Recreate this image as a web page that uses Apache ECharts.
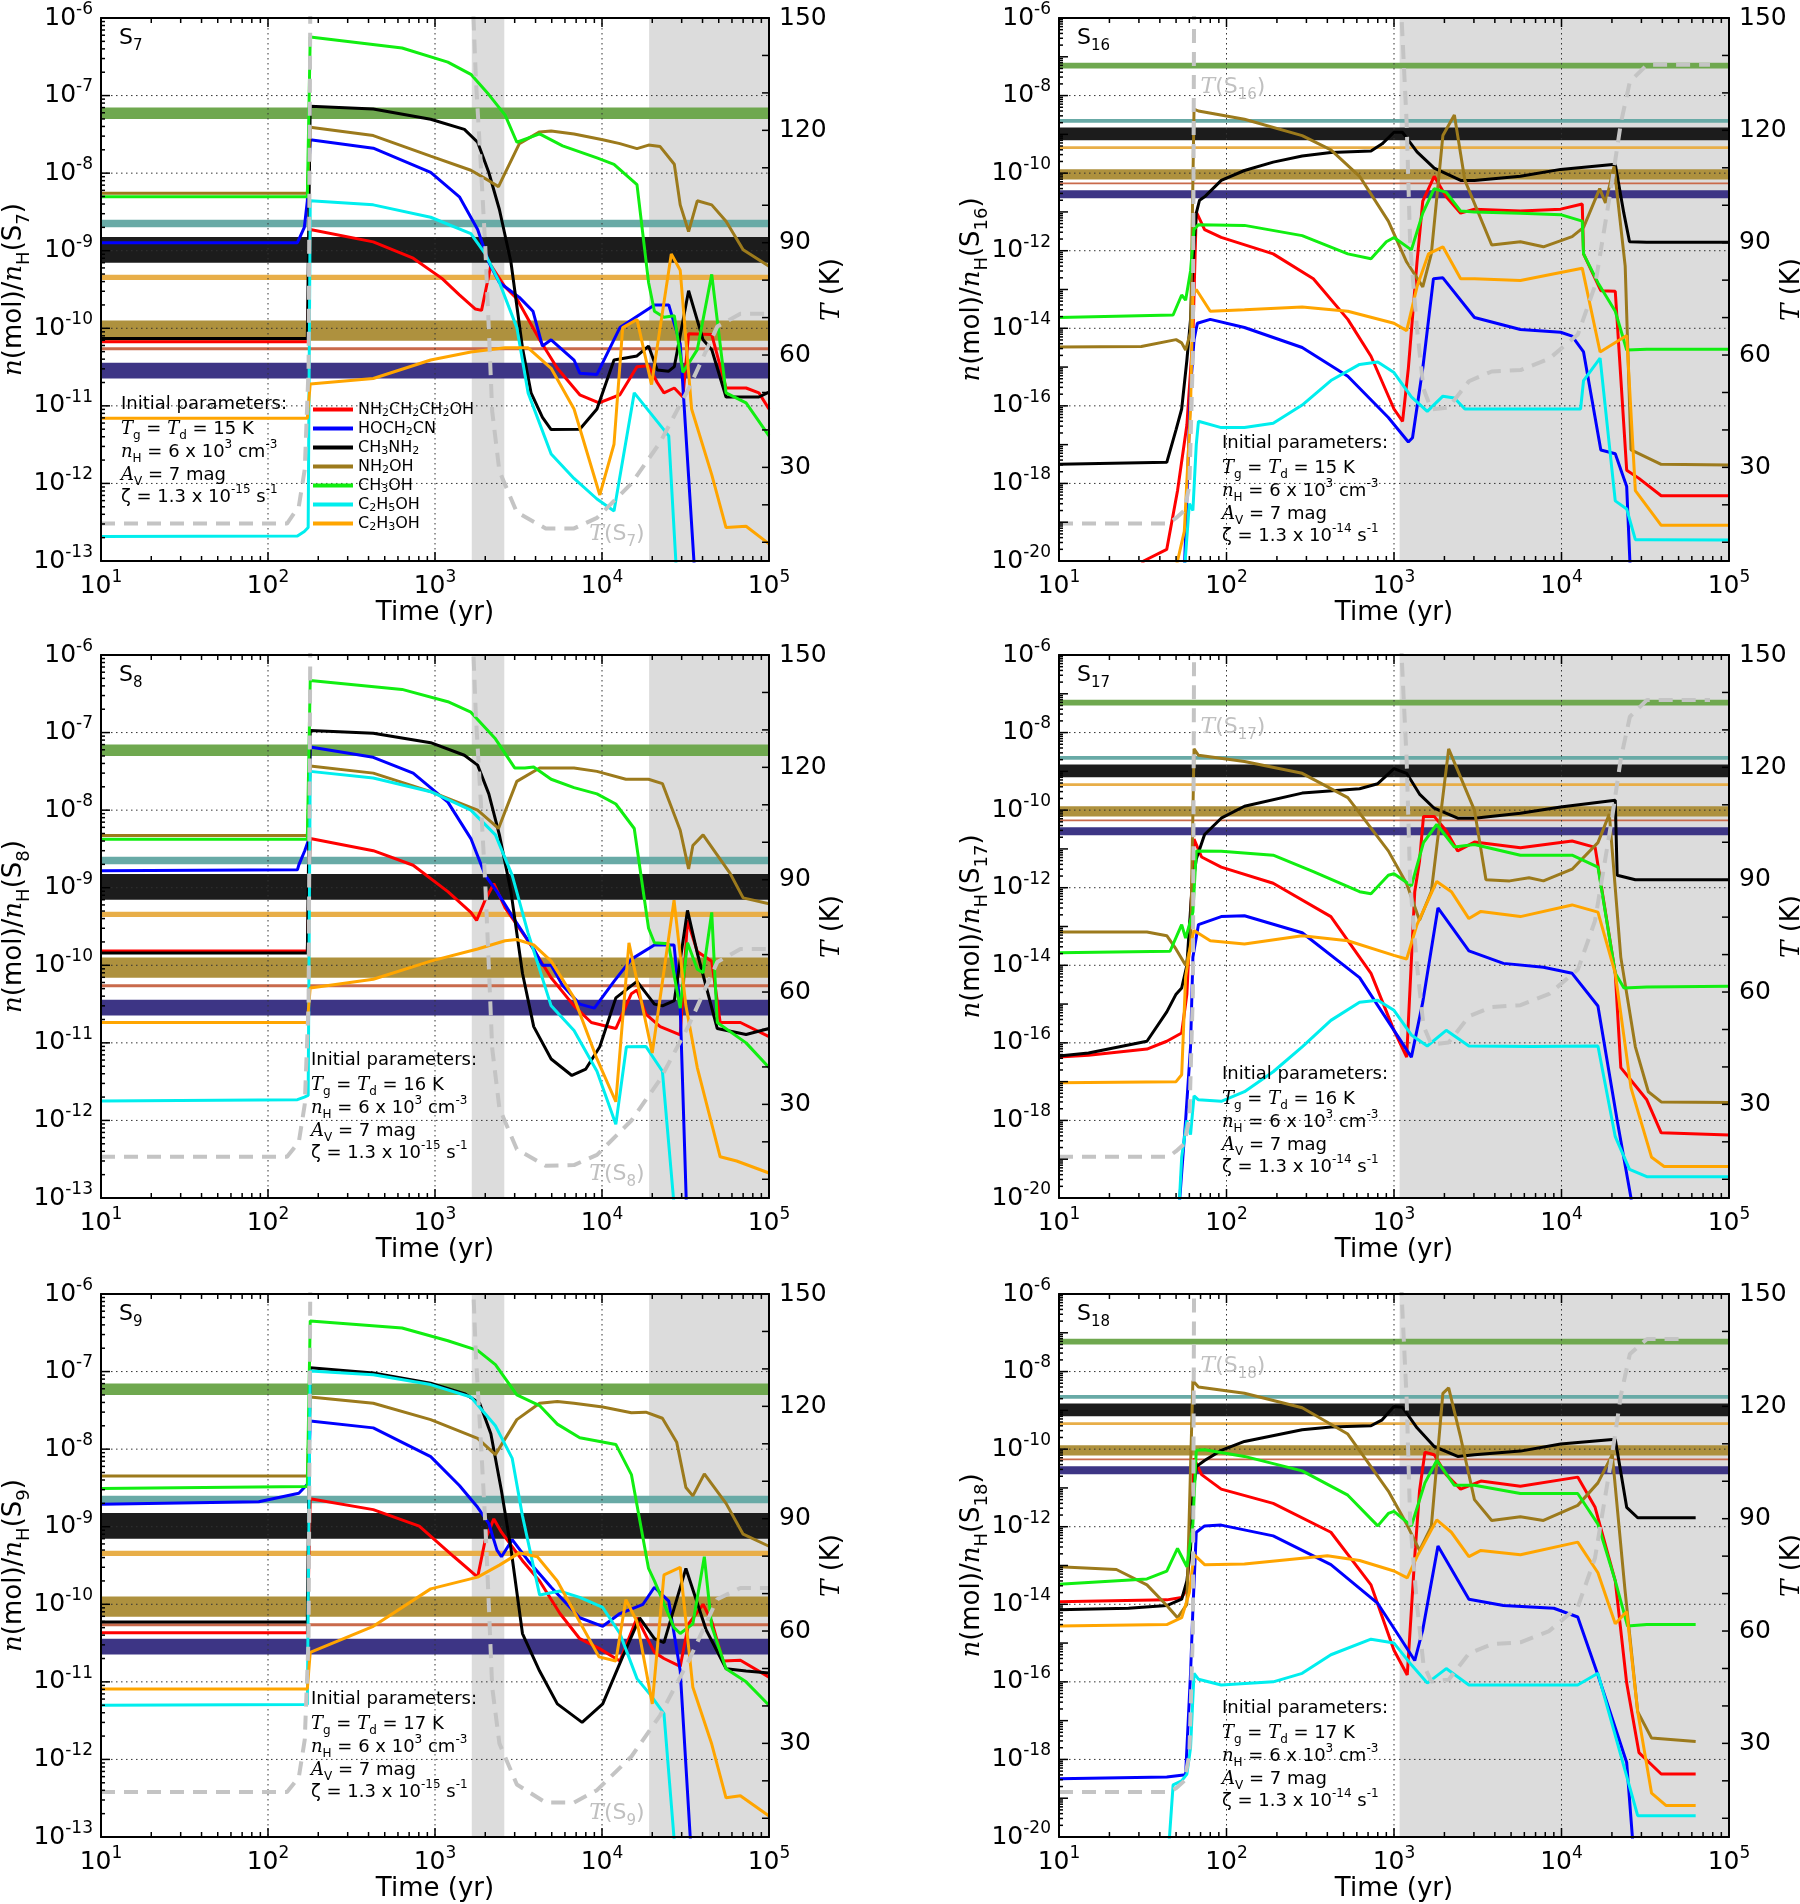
<!DOCTYPE html>
<html><head><meta charset="utf-8">
<script src="https://cdn.jsdelivr.net/npm/echarts@6/dist/echarts.min.js"></script>
<style>html,body{margin:0;padding:0;background:#fff}#c{width:1800px;height:1904px}</style>
</head><body><div id="c"></div>
<script>
// ---------------- DATA ----------------
const SPECIES = ['NH₂CH₂CH₂OH','HOCH₂CN','CH₃NH₂','NH₂OH','CH₃OH','C₂H₅OH','C₂H₃OH'];
const SPECIES_RICH = ['NH{sb|2}CH{sb|2}CH{sb|2}OH','HOCH{sb|2}CN','CH{sb|3}NH{sb|2}','NH{sb|2}OH','CH{sb|3}OH','C{sb|2}H{sb|5}OH','C{sb|2}H{sb|3}OH'];
const COLORS  = ['#ff0000','#0000ff','#000000','#9c7a1c','#11ee11','#00eeee','#ffa500'];
// observed abundance bands
const BAND_LO = [5.0e-8, 2.0e-9, 7.0e-10, 4.2e-10, 6.9e-11, 5.2e-11, 2.25e-11];
const BAND_HI = [7.0e-8, 2.5e-9, 1.5e-9, 4.9e-10, 1.26e-10, 5.7e-11, 3.6e-11];
const BAND_COLORS = ['#6fa84f','#68aaa6','#1c1c1c','#e8ae48','#ae913e','#c96a4b','#3d3585'];
const SHADE_LEFT = [[1660,2600],[19150,100000]];
const SHADE_RIGHT = [[1080,100000]];
const X_TICKS = [10,100,1000,10000,100000];
const Y_LABELS_LEFT = [1e-13,1e-12,1e-11,1e-10,1e-9,1e-8,1e-7,1e-6];
const Y_LABELS_RIGHT = [1e-20,1e-18,1e-16,1e-14,1e-12,1e-10,1e-8,1e-6];
const T_TICKS = [10,20,30,40,50,60,70,80,90,100,110,120,130,140,150];
const T_LABELS = [30,60,90,120,150];

// ---- S7 ----
const S7_NH2CH2CH2OH=[[10,6.7e-11],[172,6.7e-11],[179,1.88e-9],[427,1.3e-9],[740,8.0e-10],[1100,4.4e-10],[1400,2.7e-10],[1746,1.77e-10],[1900,1.7e-10],[2160,6.5e-10],[2630,3.4e-10],[3090,2.4e-10],[4230,7.1e-11],[5400,3.05e-11],[7360,1.39e-11],[9600,1.09e-11],[12800,1.39e-11],[16200,3.2e-11],[19000,3.3e-11],[21400,2.0e-11],[23500,1.47e-11],[27100,1.7e-11],[30500,1.3e-11],[33000,8.5e-11],[45400,8.3e-11],[55300,1.7e-11],[72900,1.7e-11],[87000,1.47e-11],[100000,9.1e-12]];
const S7_HOCH2CN=[[10,1.27e-9],[150,1.27e-9],[165,2.0e-9],[172,4.4e-9],[179,2.7e-8],[427,2.1e-8],[942,1.02e-8],[1400,4.95e-9],[1800,1.88e-9],[2100,7.1e-10],[2430,3.9e-10],[3200,2.5e-10],[3860,1.66e-10],[4400,5.9e-11],[4960,7.1e-11],[6800,3.9e-11],[7360,2.64e-11],[9330,2.54e-11],[12800,1.02e-10],[20600,2.0e-10],[25100,2.0e-10],[29400,6.3e-11],[38000,1e-14]];
const S7_CH3NH2=[[10,7.4e-11],[172,7.4e-11],[179,7.3e-8],[427,6.7e-8],[942,4.95e-8],[1500,3.66e-8],[1800,2.5e-8],[2100,1.02e-8],[2430,3.4e-9],[2850,7.1e-10],[3340,5.6e-11],[3760,1.47e-11],[4400,7.1e-12],[4960,4.95e-12],[7360,5.0e-12],[9330,9.1e-12],[11800,3.9e-11],[16200,4.4e-11],[19000,5.9e-11],[21400,2.9e-11],[25100,2.8e-11],[27100,3.2e-11],[33000,3.05e-10],[40300,7.1e-11],[45400,5.3e-11],[55300,1.3e-11],[72900,1.3e-11],[87000,1.3e-11],[100000,1.5e-11]];
const S7_NH2OH=[[10,5.5e-9],[172,5.5e-9],[179,3.9e-8],[427,3.05e-8],[942,1.66e-8],[1640,1.09e-8],[2100,8.0e-9],[2400,6.7e-9],[3200,2.4e-8],[4230,3.4e-8],[4960,3.5e-8],[6800,3.2e-8],[10100,2.7e-8],[12800,2.4e-8],[16200,2.07e-8],[19000,2.3e-8],[22300,2.2e-8],[27100,1.3e-8],[29400,3.9e-9],[33000,1.77e-9],[37200,4.4e-9],[45400,3.9e-9],[55300,2.4e-9],[70000,1.03e-9],[100000,6.3e-10]];
const S7_CH3OH=[[10,4.95e-9],[172,4.95e-9],[179,5.7e-7],[635,4.1e-7],[1194,2.7e-7],[1640,1.88e-7],[2100,1.03e-7],[2630,5.6e-8],[3090,2.5e-8],[4230,3.2e-8],[5810,2.25e-8],[9330,1.57e-8],[11800,1.3e-8],[16200,7.1e-9],[19000,3.9e-10],[20600,1.66e-10],[23500,1.39e-10],[27100,1.45e-10],[30500,2.7e-11],[37200,5.3e-11],[45400,4.95e-10],[55300,1.47e-11],[72900,1.09e-11],[100000,4.1e-12]];
const S7_C2H5OH=[[10,2.07e-13],[150,2.1e-13],[165,2.4e-13],[174,2.7e-13],[179,4.4e-9],[427,3.9e-9],[942,2.7e-9],[1640,1.66e-9],[2000,9.1e-10],[2430,3.9e-10],[3090,1.02e-10],[3610,1.47e-11],[4960,2.4e-12],[6800,1.16e-12],[9330,6.3e-13],[11800,4.4e-13],[15600,1.47e-11],[25100,4.1e-12],[29400,1e-14]];
const S7_C2H3OH=[[10,6.9e-12],[172,6.9e-12],[179,1.92e-11],[427,2.25e-11],[942,3.9e-11],[1640,4.95e-11],[2630,5.6e-11],[3610,5.6e-11],[4960,3.05e-11],[6800,9.1e-12],[9700,7.1e-13],[11800,3.2e-12],[13300,1.02e-10],[16200,1.3e-10],[19800,1.88e-11],[26000,9.1e-10],[29400,5.6e-10],[34400,9.1e-12],[45400,1.3e-12],[55300,2.7e-13],[72900,2.8e-13],[100000,1.66e-13]];
const S7_T=[[10,15],[130,15],[153,19.6],[166,29.5],[175,56.7],[179,150],[181,300],[1650,300],[1700,150],[1760,133],[1880,111],[2000,89],[2100,67],[2200,45],[2430,29],[3090,18],[4600,13.7],[6800,13.7],[9330,16.5],[15000,25.7],[22300,36.7],[33000,51],[49000,67.6],[67400,71],[100000,71]];

// ---- S8 ----
const S8_NH2CH2CH2OH=[[10,1.53e-10],[172,1.53e-10],[179,4.3e-9],[427,3.0e-9],[740,1.95e-9],[1194,8.9e-10],[1640,4.8e-10],[1775,3.8e-10],[2000,7.0e-10],[2250,1.13e-9],[2630,5.5e-10],[3610,2.07e-10],[4960,6.9e-11],[6800,3.0e-11],[8630,1.83e-11],[12100,1.53e-11],[15000,4.3e-11],[16200,4.8e-11],[18300,2.35e-11],[22300,1.62e-11],[29400,1.27e-11],[32500,3.8e-10],[37200,1.5e-10],[45400,1.13e-10],[51000,1.83e-11],[67400,1.83e-11],[100000,1.2e-11]];
const S8_HOCH2CN=[[10,1.66e-9],[150,1.7e-9],[153,1.97e-9],[166,3.0e-9],[174,4.0e-9],[179,6.5e-8],[427,4.8e-8],[740,3.0e-8],[1194,1.27e-8],[1640,4.3e-9],[2000,1.44e-9],[2350,8.9e-10],[2900,4.3e-10],[3900,1.62e-10],[4400,1.0e-10],[4960,1.0e-10],[5810,5.5e-11],[7360,3.16e-11],[9000,2.8e-11],[11800,6.2e-11],[15000,1.2e-10],[20600,1.83e-10],[27000,1.83e-10],[29400,2.9e-11],[33000,1e-14]];
const S8_CH3NH2=[[10,1.44e-10],[172,1.44e-10],[179,1.06e-7],[427,9.8e-8],[942,7.4e-8],[1500,5.1e-8],[1800,3.8e-8],[2100,1.62e-8],[2430,4.8e-9],[2850,8.9e-10],[3340,7.9e-11],[3900,1.62e-11],[4960,6.2e-12],[6600,3.8e-12],[8000,4.6e-12],[9700,8.9e-12],[12100,3.8e-11],[16200,6.2e-11],[20600,3.16e-11],[23000,3.0e-11],[27100,3.5e-11],[32500,5.1e-10],[37200,1.44e-10],[49000,1.53e-11],[72900,1.28e-11],[100000,1.53e-11]];
const S8_NH2OH=[[10,4.7e-9],[172,4.7e-9],[179,3.7e-8],[427,3.0e-8],[942,1.73e-8],[1800,1.0e-8],[2400,5.8e-9],[3090,2.35e-8],[4230,3.5e-8],[6800,3.5e-8],[9330,3.16e-8],[13900,2.5e-8],[19000,2.5e-8],[23000,2.2e-8],[29400,5.5e-9],[33000,1.74e-9],[35000,3.5e-9],[40300,4.8e-9],[58500,1.53e-9],[70000,7.4e-10],[100000,6.2e-10]];
const S8_CH3OH=[[10,4.2e-9],[172,4.2e-9],[179,4.7e-7],[635,3.6e-7],[1194,2.5e-7],[1640,1.83e-7],[2300,8.3e-8],[3000,3.5e-8],[3450,3.5e-8],[3900,3.6e-8],[4960,2.5e-8],[6800,1.95e-8],[9330,1.62e-8],[12100,1.2e-8],[15600,5.8e-9],[19000,3.0e-10],[20600,1.95e-10],[25000,1.9e-10],[29400,2.8e-11],[32500,1.95e-10],[37200,8.9e-11],[40300,8.0e-11],[45400,4.8e-10],[49000,1.83e-11],[72900,1.0e-11],[100000,4.8e-12]];
const S8_C2H5OH=[[10,1.78e-12],[150,1.85e-12],[165,2.0e-12],[174,2.1e-12],[179,3.16e-8],[427,2.6e-8],[942,1.73e-8],[1640,1.0e-8],[2300,4.8e-9],[2900,1.44e-9],[3610,2.6e-10],[4960,3.0e-11],[6800,1.44e-11],[9330,4.3e-12],[12100,8.9e-13],[14000,8.9e-12],[18300,9.0e-12],[23000,4.3e-12],[29400,1e-14]];
const S8_C2H3OH=[[10,1.83e-11],[172,1.83e-11],[179,5.1e-11],[427,6.6e-11],[942,1.13e-10],[1800,1.62e-10],[2630,2.07e-10],[3090,2.15e-10],[3900,1.83e-10],[4960,1.13e-10],[6800,3.8e-11],[9330,6.2e-12],[12100,1.74e-12],[14500,1.95e-10],[20000,7.4e-12],[27000,6.9e-10],[31800,3.0e-11],[37200,4.8e-12],[51000,3.4e-13],[64000,3.0e-13],[100000,2.1e-13]];
const S8_T=[[10,16],[130,16],[153,20],[166,30],[175,57],[179,150],[181,300],[1650,300],[1700,150],[1760,133],[1880,111],[2000,89],[2100,67],[2200,45],[2430,29],[3090,18],[4600,13.6],[6800,13.8],[9330,16.5],[15000,25.7],[22300,36.7],[33000,51],[49000,68],[67400,71.5],[100000,71.5]];

// ---- S9 ----
const S9_NH2CH2CH2OH=[[10,4.3e-11],[172,4.3e-11],[179,2.3e-9],[427,1.66e-9],[805,1.02e-9],[1300,4.1e-10],[1800,2.24e-10],[2000,6.8e-10],[2250,1.26e-9],[2500,8.5e-10],[3340,3.65e-10],[4230,2.0e-10],[5600,7.6e-11],[7360,3.6e-11],[9600,2.7e-11],[12800,1.86e-11],[16200,6.7e-11],[20600,2.4e-11],[23500,2.0e-11],[29400,1.58e-11],[33000,5.6e-11],[40300,1.0e-10],[45400,6.0e-11],[53000,1.86e-11],[67400,1.9e-11],[100000,1.15e-11]];
const S9_HOCH2CN=[[10,1.95e-9],[88,2.1e-9],[153,2.7e-9],[174,3.6e-9],[179,2.3e-8],[427,1.88e-8],[942,8.0e-9],[1400,3.4e-9],[1800,1.78e-9],[2100,1.1e-9],[2350,5.0e-10],[2500,4.1e-10],[2900,6.8e-10],[3610,3.65e-10],[4960,1.66e-10],[7360,6.7e-11],[10100,5.2e-11],[12800,7.6e-11],[17600,1.0e-10],[20600,1.66e-10],[25100,1.1e-10],[29400,1.38e-11],[36000,1e-14]];
const S9_CH3NH2=[[10,5.9e-11],[172,5.9e-11],[179,1.12e-7],[427,9.6e-8],[942,7.1e-8],[1500,5.2e-8],[1850,3.9e-8],[2160,1.58e-8],[2500,2.9e-9],[2850,5.2e-10],[3340,4.2e-11],[4230,1.38e-11],[5400,5.2e-12],[7600,3.0e-12],[10100,5.2e-12],[13400,2.2e-11],[16800,6.7e-11],[20600,3.6e-11],[23500,3.2e-11],[31800,2.9e-10],[42000,4.7e-11],[55300,1.48e-11],[72900,1.38e-11],[100000,1.3e-11]];
const S9_NH2OH=[[10,4.5e-9],[172,4.5e-9],[179,4.7e-8],[427,3.9e-8],[942,2.4e-8],[1800,1.38e-8],[2300,8.5e-9],[3090,2.4e-8],[4230,3.9e-8],[5400,4.1e-8],[6800,3.9e-8],[10100,3.5e-8],[15000,2.95e-8],[18300,3.0e-8],[23000,2.5e-8],[28000,1.23e-8],[31800,3.2e-9],[35000,2.5e-9],[41000,4.8e-9],[55300,2.0e-9],[70000,8.0e-10],[100000,5.6e-10]];
const S9_CH3OH=[[10,3.1e-9],[172,3.3e-9],[179,4.5e-7],[635,3.65e-7],[1194,2.5e-7],[1800,1.88e-7],[2300,1.23e-7],[3090,5.0e-8],[4230,3.65e-8],[5400,2.1e-8],[7360,1.4e-8],[12100,1.15e-8],[15000,4.7e-9],[19000,2.9e-10],[20600,2.0e-10],[27000,5.0e-11],[29400,4.2e-11],[35000,5.6e-11],[41000,4.1e-10],[45400,5.2e-11],[55300,1.48e-11],[72900,1.0e-11],[100000,5.0e-12]];
const S9_C2H5OH=[[10,5.0e-12],[172,5.1e-12],[179,1.02e-7],[427,9.1e-8],[942,6.8e-8],[1640,4.7e-8],[2300,2.0e-8],[2900,7.6e-9],[3340,1.38e-9],[4230,1.32e-10],[5600,1.48e-10],[7360,1.23e-10],[10100,9.1e-11],[12800,4.2e-11],[16200,1.1e-11],[19500,6.8e-12],[23500,3.9e-12],[29400,1e-14]];
const S9_C2H3OH=[[10,8.1e-12],[172,8.1e-12],[179,2.4e-11],[427,5.2e-11],[942,1.58e-10],[1800,2.24e-10],[2430,3.2e-10],[3200,4.6e-10],[4100,4.1e-10],[5400,2.0e-10],[7360,5.9e-11],[9600,2.1e-11],[12100,1.86e-11],[13900,1.15e-10],[16200,6.0e-11],[20000,5.2e-12],[23500,2.4e-10],[29400,3.0e-10],[35000,8.5e-12],[45400,1.58e-12],[55300,3.2e-13],[67400,3.4e-13],[100000,1.86e-13]];
const S9_T=[[10,17],[130,17],[153,21],[166,31],[175,58],[179,150],[181,300],[1650,300],[1700,150],[1760,133],[1880,111],[2000,89],[2100,67],[2200,45],[2430,30],[3090,19],[4600,14.2],[6800,14.2],[9330,17.5],[15000,26.5],[22300,37.5],[33000,52],[49000,68.5],[67400,71.5],[100000,71.5]];

// ---- S16 ----
const S16_NH2CH2CH2OH=[[28,3e-21],[32,1e-20],[44,2e-20],[51,6.5e-19],[58,3.2e-17],[63,6.3e-15],[66,1e-11],[74,3.5e-12],[93,2.2e-12],[190,8.3e-13],[330,1.9e-13],[530,1.7e-14],[729,1.9e-15],[1000,8.3e-17],[1125,4e-17],[1218,9.3e-16],[1372,5.1e-13],[1485,1.9e-11],[1738,8.3e-11],[2050,2.45e-11],[2500,9.3e-12],[3022,1.18e-11],[5684,1.05e-11],[9886,1.18e-11],[13300,1.6e-11],[13540,8.3e-13],[17170,9.3e-14],[20940,9e-14],[24500,2.2e-18],[29000,1.35e-18],[39370,4.8e-19],[100000,4.8e-19]];
const S16_HOCH2CN=[[56,5e-21],[61,2.75e-16],[64,5.1e-15],[67,1.35e-14],[80,1.7e-14],[128,1.05e-14],[283,3.2e-15],[530,5.8e-16],[925,5.0e-17],[1218,1.17e-17],[1290,1.5e-17],[1485,9.3e-16],[1720,1.9e-13],[1958,2.0e-13],[3022,1.9e-14],[5684,9.3e-15],[9886,7.9e-15],[11570,6.3e-15],[13540,2.45e-15],[17170,7.3e-18],[20940,5.8e-18],[24500,8.3e-19],[25600,1e-20],[27000,1e-22]];
const S16_CH3NH2=[[10,3.1e-18],[44,3.5e-18],[50,2.45e-17],[54,8.3e-17],[58,1.5e-15],[61,1.7e-14],[63,5.1e-13],[66,9.3e-12],[69,2.0e-11],[74,2.45e-11],[93,6.5e-11],[128,1.17e-10],[190,1.92e-10],[283,2.77e-10],[420,3.4e-10],[729,3.7e-10],[850,5.7e-10],[1000,1.13e-9],[1125,1.13e-9],[1372,3.55e-10],[1738,1.35e-10],[2500,6.5e-11],[3022,6.5e-11],[5684,8.3e-11],[9886,1.25e-10],[20940,1.7e-10],[23560,9.3e-12],[25480,1.7e-12],[32300,1.65e-12],[100000,1.65e-12]];
const S16_NH2OH=[[10,3.3e-15],[31,3.4e-15],[50,5.1e-15],[54,4.2e-15],[57,2.75e-15],[61,8e-15],[64,4.5e-9],[68,4.0e-9],[128,2.45e-9],[283,9.3e-10],[420,4.0e-10],[623,8.3e-11],[925,5.8e-12],[1190,5.1e-13],[1485,1.17e-13],[1670,8.3e-13],[1958,9.3e-10],[2293,3.16e-9],[2650,6.5e-11],[3831,1.4e-12],[5684,1.7e-12],[7800,1.26e-12],[11570,2.3e-12],[13540,4.0e-12],[16900,4.0e-11],[18300,1.7e-11],[20600,1.5e-10],[24000,4.0e-13],[26000,7.3e-18],[39370,3.1e-18],[100000,3.0e-18]];
const S16_CH3OH=[[10,1.9e-14],[48,2.2e-14],[54,7.2e-14],[57,5.3e-14],[61,3e-13],[64,3.55e-12],[68,4.7e-12],[128,4.5e-12],[283,2.45e-12],[530,8.3e-13],[729,6.2e-13],[900,1.7e-12],[1000,2.2e-12],[1270,1.05e-12],[1485,9.3e-12],[1738,4.0e-11],[2050,3.2e-11],[2500,1.05e-11],[3022,1.0e-11],[5684,9.3e-12],[9886,8.5e-12],[13300,5.8e-12],[13540,8.3e-13],[16500,1.5e-13],[20940,2.75e-14],[24500,2.75e-15],[32300,2.9e-15],[100000,2.9e-15]];
const S16_C2H5OH=[[56,5e-21],[60,3e-19],[63,2e-19],[66,1e-17],[68,4e-17],[93,2.75e-17],[128,2.75e-17],[190,3.55e-17],[283,1.05e-16],[420,4.5e-16],[623,1.17e-15],[800,1.35e-15],[1000,7.2e-16],[1270,1.7e-16],[1580,7.2e-17],[1958,1.78e-16],[2293,1.6e-16],[2650,8.3e-17],[3022,8.3e-17],[13000,8.3e-17],[13540,4.5e-16],[17000,1.7e-15],[20940,3.55e-19],[24500,2.2e-19],[27600,3.55e-20],[32300,3.55e-20],[100000,3.5e-20]];
const S16_C2H3OH=[[49,5e-21],[51,1e-20],[56,5.8e-20],[61,8.3e-17],[63,7.2e-14],[66,1.0e-13],[80,2.75e-14],[128,3.0e-14],[283,3.55e-14],[530,2.75e-14],[1000,1.35e-14],[1190,8.7e-15],[1372,1.17e-13],[1607,8.3e-13],[1958,1.26e-12],[2500,1.9e-13],[3022,1.9e-13],[5684,1.7e-13],[9886,2.75e-13],[13300,3.55e-13],[17000,2.45e-15],[24500,6.5e-15],[27600,6.5e-19],[39370,8.3e-20],[100000,8.3e-20]];
const S16_T=[[10,15],[45,15],[50,16.5],[56,18.5],[60,25],[63,60],[64,150],[65,300],[1080,300],[1110,150],[1190,122],[1250,89],[1372,67],[1500,51],[1670,45.5],[2120,46],[2800,53],[3830,55.6],[5690,56],[8440,59],[12530,65.5],[15850,78.5],[19960,105.8],[22630,122],[25600,133],[32400,137.5],[77000,137.5]];

// ---- S17 ----
const S17_NH2CH2CH2OH=[[10,4.3e-17],[15,4.8e-17],[33.5,6.9e-17],[44,1.1e-16],[54,1.8e-16],[58,1.8e-15],[62,7.9e-13],[64,1.8e-11],[71,6.2e-12],[93,3.4e-12],[190,1.3e-12],[420,1.8e-13],[729,6.2e-15],[1000,2.1e-16],[1190,4.3e-17],[1330,7.9e-13],[1420,4.8e-12],[1500,6.9e-11],[1738,6.9e-11],[2050,2.95e-11],[2400,8.9e-12],[3022,1.5e-11],[5684,1.07e-11],[11570,1.6e-11],[15870,1.1e-11],[20940,6.2e-15],[22600,2.3e-17],[32300,3.4e-18],[39370,4.8e-19],[100000,4.2e-19]];
const S17_HOCH2CN=[[52,5e-21],[57,1e-18],[61,7.9e-17],[63,1.6e-14],[68,1.12e-13],[93,1.8e-13],[128,1.9e-13],[283,6.9e-14],[623,4.8e-15],[1000,2.1e-16],[1270,4.3e-17],[1485,1.12e-15],[1830,3.0e-13],[2800,2.35e-14],[4500,1.12e-14],[7800,8.9e-15],[11570,6.2e-15],[16500,8.9e-16],[21500,1.0e-18],[26000,1e-20],[28000,1e-22]];
const S17_CH3NH2=[[10,4.6e-17],[15,5.5e-17],[33.5,1.1e-16],[44,6.3e-16],[50,1.8e-15],[54,2.6e-15],[58,1e-14],[62,7.9e-13],[66,5.5e-12],[74,2.35e-11],[93,6.2e-11],[128,1.26e-10],[283,2.75e-10],[623,3.55e-10],[800,4.8e-10],[1000,1.17e-9],[1190,8.9e-10],[1420,2.6e-10],[1738,1.12e-10],[2400,6.2e-11],[3022,6.2e-11],[5684,8.3e-11],[9886,1.2e-10],[20940,1.8e-10],[21500,2.1e-12],[27600,1.6e-12],[100000,1.6e-12]];
const S17_NH2OH=[[10,7.2e-14],[33.5,7.2e-14],[44,5.8e-14],[50,2.6e-14],[57,1e-14],[61,3e-14],[64,3.8e-9],[68,2.6e-9],[128,1.8e-9],[283,8.9e-10],[530,2.1e-10],[925,8.9e-12],[1190,1.26e-12],[1420,1.45e-13],[1670,7.9e-13],[2120,3.8e-9],[3022,1.0e-10],[3540,1.6e-12],[4900,1.5e-12],[6400,1.8e-12],[7800,1.5e-12],[11570,3.0e-12],[16500,1.45e-11],[19300,7.9e-11],[22600,1.6e-14],[27600,7.9e-17],[33000,5.5e-18],[39370,3.0e-18],[100000,2.9e-18]];
const S17_CH3OH=[[10,2.1e-14],[46,2.3e-14],[54,1.12e-13],[57,5e-14],[63,2.35e-13],[66,8.9e-12],[93,8.7e-12],[190,6.9e-12],[330,2.6e-12],[623,7.9e-13],[729,7.0e-13],[925,2.1e-12],[1000,2.3e-12],[1270,1.12e-12],[1500,1.45e-11],[1800,4.3e-11],[2293,1.12e-11],[3022,1.3e-11],[5684,6.9e-12],[11570,6.9e-12],[16500,3.4e-12],[20940,6.2e-15],[23600,2.6e-15],[32300,2.75e-15],[100000,2.9e-15]];
const S17_C2H5OH=[[52,5e-21],[54,1.12e-19],[58,1e-18],[61,4.3e-19],[64,4.3e-18],[68,3.4e-18],[93,3.1e-18],[128,5.5e-18],[190,1.8e-17],[283,7.9e-17],[420,3.8e-16],[623,1.12e-15],[800,1.26e-15],[1000,6.9e-16],[1270,1.6e-16],[1580,8.3e-17],[2050,2.1e-16],[2800,8.3e-17],[6700,8.0e-17],[16500,8.3e-17],[20940,3.8e-19],[25480,5.5e-20],[32300,3.55e-20],[100000,3.55e-20]];
const S17_C2H3OH=[[10,9.3e-18],[50,1e-17],[54,1.5e-17],[57,5e-15],[61,3.4e-14],[64,7.9e-14],[80,4.3e-14],[128,3.55e-14],[283,5.8e-14],[530,4.3e-14],[1000,1.8e-14],[1190,1.45e-14],[1372,1.12e-13],[1800,1.45e-12],[2200,7.9e-13],[2800,1.6e-13],[3300,2.45e-13],[5684,1.8e-13],[11570,3.6e-13],[16500,2.35e-13],[20940,6.2e-15],[26000,6.9e-18],[34500,1.12e-19],[41000,6.5e-20],[100000,6.5e-20]];
const S17_T=[[10,16],[45,16],[50,17.5],[56,19.5],[60,26],[63,60],[64,150],[65,300],[1080,300],[1110,150],[1190,122],[1250,89],[1372,67],[1500,51],[1670,46],[2120,46.5],[2800,53.5],[3830,56],[5690,56.5],[8440,59.5],[12530,66],[15850,79],[19960,106],[22630,122.5],[25600,133.5],[32400,138],[77000,138]];

// ---- S18 ----
const S18_NH2CH2CH2OH=[[10,1.17e-14],[44,1.3e-14],[54,1.5e-14],[58,2.4e-14],[62,1.9e-12],[64,5.8e-11],[71,2.2e-11],[93,9.3e-12],[190,4.0e-12],[420,7.2e-13],[729,3.16e-14],[1000,6.5e-16],[1200,1.5e-16],[1330,1.7e-13],[1420,8.3e-12],[1530,8.3e-11],[1738,7.2e-11],[2050,2.2e-11],[2500,9.3e-12],[3300,1.5e-11],[5684,1.1e-11],[12500,1.9e-11],[15870,3.16e-12],[20940,4e-14],[24500,9.3e-17],[29000,1.5e-18],[39370,4.2e-19],[63240,4.2e-19]];
const S18_HOCH2CN=[[10,3.16e-19],[44,3.5e-19],[57,4e-19],[61,1.66e-16],[63,7.2e-15],[66,7.2e-13],[74,1.05e-12],[93,1.1e-12],[190,5.8e-13],[420,1.05e-13],[800,1.05e-14],[1090,1.35e-15],[1330,3.55e-16],[1485,2.2e-15],[1830,3.16e-13],[2800,1.35e-14],[4500,9.3e-15],[9000,7.9e-15],[12500,4.7e-15],[16500,1.5e-16],[24500,8.3e-19],[27600,1e-21]];
const S18_CH3NH2=[[10,7.2e-15],[26,7.9e-15],[44,9.3e-15],[54,1.35e-14],[58,4e-14],[61,2.75e-13],[63,6.5e-12],[66,3.55e-11],[74,5.1e-11],[93,9.3e-11],[128,1.58e-10],[283,3.16e-10],[420,3.7e-10],[729,4.0e-10],[850,5.7e-10],[1000,1.26e-9],[1125,1.2e-9],[1372,3.55e-10],[1738,1.17e-10],[2400,6.5e-11],[3022,7.2e-11],[5684,8.9e-11],[9886,1.35e-10],[20940,1.8e-10],[24500,3.16e-12],[28500,1.7e-12],[63240,1.7e-12]];
const S18_NH2OH=[[10,9.3e-14],[22,7.9e-14],[33.5,3.16e-14],[44,9.3e-15],[51,4.5e-15],[58,1e-14],[63,5.8e-9],[68,4.0e-9],[128,2.75e-9],[283,1.17e-9],[530,2.45e-10],[925,8.3e-12],[1190,1.17e-12],[1420,2.45e-13],[1670,1e-12],[1958,2.75e-9],[2120,3.8e-9],[2500,2e-10],[3022,5.0e-12],[3831,1.45e-12],[5684,1.8e-12],[7800,1.45e-12],[12500,3.55e-12],[16500,1.35e-11],[20100,7.2e-11],[23900,2.5e-14],[28500,1.7e-17],[34500,3.55e-18],[63240,2.9e-18]];
const S18_CH3OH=[[10,3.3e-14],[33.5,4.5e-14],[44,7.2e-14],[51,2.75e-13],[58,9.3e-14],[63,1.17e-12],[66,9.3e-11],[74,9.7e-11],[128,6.5e-11],[283,2.75e-11],[530,6.5e-12],[800,1.05e-12],[925,2.2e-12],[1000,2.5e-12],[1270,1.05e-12],[1530,1.35e-11],[1800,5.1e-11],[2293,1.17e-11],[3022,1.17e-11],[5684,7.2e-12],[12500,7.2e-12],[16500,1.17e-12],[20940,4e-14],[24800,2.75e-15],[32300,3.0e-15],[63240,3.0e-15]];
const S18_C2H5OH=[[44,1e-21],[48,2.2e-19],[54,2.8e-19],[58,4.2e-19],[61,2e-18],[64,1.66e-16],[68,1.17e-16],[93,8.3e-17],[190,1.0e-16],[283,1.66e-16],[420,5.0e-16],[729,1.26e-15],[1000,1.0e-15],[1270,2.75e-16],[1580,9.3e-17],[2050,2.2e-16],[2800,8.3e-17],[6700,8.3e-17],[12500,8.3e-17],[16500,1.66e-16],[28500,3.55e-20],[63240,3.55e-20]];
const S18_C2H3OH=[[10,2.75e-15],[44,3e-15],[54,4.5e-15],[60,2e-14],[64,1.9e-13],[74,1.05e-13],[128,1.1e-13],[400,1.78e-13],[623,1.35e-13],[1000,7.2e-14],[1200,4.8e-14],[1372,1.7e-13],[1800,1.5e-12],[2200,7.2e-13],[2800,1.7e-13],[3300,2.45e-13],[5684,1.9e-13],[12500,4.0e-13],[16500,6.5e-14],[20940,3.16e-15],[24500,6.5e-15],[28500,1.7e-17],[34500,1.35e-19],[42000,6.5e-20],[63240,6.5e-20]];
const S18_T=[[10,17],[45,17],[50,18],[56,20],[60,27],[63,60],[64,150],[65,300],[1080,300],[1110,150],[1190,122],[1250,89],[1372,67],[1500,51],[1670,46.5],[2120,47],[2800,54],[3830,56.5],[5690,57],[8440,60],[12530,66.5],[15850,79.5],[19960,106.5],[22630,123],[25600,134],[32400,138],[52000,138]];

// ---------------- LAYOUT ----------------
const FONT = 'DejaVu Sans';
const PANELS = [
 {lab:'7',  g:[101,18,668,543],  ymin:1e-13, ymax:1e-6, every:1, lines:[S7_NH2CH2CH2OH,S7_HOCH2CN,S7_CH3NH2,S7_NH2OH,S7_CH3OH,S7_C2H5OH,S7_C2H3OH], T:S7_T, shade:SHADE_LEFT, tg:'15', zeta:'-15', tpos:[617,534], ppos:[121,404], box:[112,392,372,142]},
 {lab:'16', g:[1059,18,670,543], ymin:1e-20, ymax:1e-6, every:2, lines:[S16_NH2CH2CH2OH,S16_HOCH2CN,S16_CH3NH2,S16_NH2OH,S16_CH3OH,S16_C2H5OH,S16_C2H3OH], T:S16_T, shade:SHADE_RIGHT, tg:'15', zeta:'-14', tpos:[1233,87], ppos:[1222,443], box:[1214,430,172,120]},
 {lab:'8',  g:[101,655,668,543], ymin:1e-13, ymax:1e-6, every:1, lines:[S8_NH2CH2CH2OH,S8_HOCH2CN,S8_CH3NH2,S8_NH2OH,S8_CH3OH,S8_C2H5OH,S8_C2H3OH], T:S8_T, shade:SHADE_LEFT, tg:'16', zeta:'-15', tpos:[617,1174], ppos:[311,1060], box:[303,1047,170,120]},
 {lab:'17', g:[1059,655,670,543],ymin:1e-20, ymax:1e-6, every:2, lines:[S17_NH2CH2CH2OH,S17_HOCH2CN,S17_CH3NH2,S17_NH2OH,S17_CH3OH,S17_C2H5OH,S17_C2H3OH], T:S17_T, shade:SHADE_RIGHT, tg:'16', zeta:'-14', tpos:[1233,727], ppos:[1222,1074], box:[1214,1061,172,120]},
 {lab:'9',  g:[101,1294,668,543],ymin:1e-13, ymax:1e-6, every:1, lines:[S9_NH2CH2CH2OH,S9_HOCH2CN,S9_CH3NH2,S9_NH2OH,S9_CH3OH,S9_C2H5OH,S9_C2H3OH], T:S9_T, shade:SHADE_LEFT, tg:'17', zeta:'-15', tpos:[617,1813], ppos:[311,1699], box:[303,1686,170,120]},
 {lab:'18', g:[1059,1294,670,543],ymin:1e-20, ymax:1e-6, every:2, lines:[S18_NH2CH2CH2OH,S18_HOCH2CN,S18_CH3NH2,S18_NH2OH,S18_CH3OH,S18_C2H5OH,S18_C2H3OH], T:S18_T, shade:SHADE_RIGHT, tg:'17', zeta:'-14', tpos:[1233,1366], ppos:[1222,1708], box:[1214,1695,172,120]}
];
const PARAM_DY = [0,25,48,71,93];

function expFmt(v){
  const e = Math.round(Math.log10(v));
  return '{b|10}{s|' + (e < 0 ? '-' : '') + Math.abs(e) + '}';
}
const tickRich = {
  b:{fontSize:25, fontFamily:FONT, color:'#000', lineHeight:34},
  s:{fontSize:17, fontFamily:FONT, color:'#000', verticalAlign:'top'}
};
const mathRich = function(size, color){
  return {
    i:{fontSize:size, fontFamily:'DejaVu Serif', fontStyle:'italic', color:color, lineHeight:Math.round(size*1.45), verticalAlign:'middle'},
    r:{fontSize:size, fontFamily:FONT, color:color, lineHeight:Math.round(size*1.45), verticalAlign:'middle'},
    sb:{fontSize:Math.round(size*0.68), fontFamily:FONT, color:color, verticalAlign:'bottom'},
    sp:{fontSize:Math.round(size*0.68), fontFamily:FONT, color:color, verticalAlign:'top'}
  };
};
const axisLineStyle = {show:true, onZero:false, lineStyle:{color:'#000', width:2}};

const option = {animation:false, backgroundColor:'#fff', grid:[], xAxis:[], yAxis:[], series:[], graphic:[],
  legend:{left:313, top:400, orient:'vertical', itemWidth:40, itemHeight:4, itemGap:0, padding:0, icon:'rect',
    selectedMode:false, data:SPECIES,
    formatter:function(name){ return SPECIES_RICH[SPECIES.indexOf(name)]; },
    textStyle:{fontSize:16, lineHeight:19, fontFamily:FONT, color:'#000',
      rich:{sb:{fontSize:11, fontFamily:FONT, color:'#000', verticalAlign:'bottom'}}}}
};

PANELS.forEach(function(p, i){
  option.grid.push({left:p.g[0], top:p.g[1], width:p.g[2], height:p.g[3], containLabel:false, outerBoundsMode:'none'});
  option.xAxis.push({gridIndex:i, type:'log', logBase:10, min:10, max:100000, splitNumber:4, z:6,
    axisLine:axisLineStyle, axisTick:{show:false}, minorTick:{show:false}, splitLine:{show:false},
    axisLabel:{margin:8, customValues:X_TICKS, formatter:expFmt, rich:tickRich, fontSize:25, lineHeight:34, color:'#000', fontFamily:FONT},
    name:'Time (yr)', nameLocation:'middle', nameGap:39, nameMoveOverlap:false,
    nameTextStyle:{fontSize:26, color:'#000', fontFamily:FONT}});
});
PANELS.forEach(function(p, i){
  option.xAxis.push({gridIndex:i, type:'log', logBase:10, min:10, max:100000, position:'top', z:6,
    axisLine:axisLineStyle, axisTick:{show:false}, axisLabel:{show:false}, splitLine:{show:false}});
});
PANELS.forEach(function(p, i){
  option.yAxis.push({gridIndex:i, type:'log', logBase:10, min:p.ymin, max:p.ymax, splitNumber:7, position:'left', z:6,
    axisLine:axisLineStyle, axisTick:{show:false}, minorTick:{show:false}, splitLine:{show:false},
    axisLabel:{margin:8, customValues:(p.every === 1 ? Y_LABELS_LEFT : Y_LABELS_RIGHT), formatter:expFmt, rich:tickRich, fontSize:25, lineHeight:34, color:'#000', fontFamily:FONT},
    name:'{i|n}{r|(mol)/}{i|n}{sb|H}{r|(S}{sb|' + p.lab + '}{r|)}', nameLocation:'middle', nameGap:68, nameRotate:90, nameMoveOverlap:false,
    nameTextStyle:{fontSize:26, lineHeight:36, color:'#000', fontFamily:FONT, rich:mathRich(26,'#000')}});
  option.yAxis.push({gridIndex:i, type:'value', min:5, max:150, splitNumber:5, position:'right', z:6,
    axisLine:axisLineStyle, axisTick:{show:false}, splitLine:{show:false},
    axisLabel:{margin:10, fontSize:25, color:'#000', fontFamily:FONT, customValues:T_LABELS,
      formatter:function(v){ return (Math.round(v) % 30 === 0) ? String(Math.round(v)) : ''; }},
    name:'{i|T}{r| (K)}', nameLocation:'middle', nameGap:44, nameRotate:90, nameMoveOverlap:false,
    nameTextStyle:{fontSize:26, lineHeight:36, color:'#000', fontFamily:FONT, rich:mathRich(26,'#000')}});
});

PANELS.forEach(function(p, i){
  const yi = 2*i;
  const e0 = Math.round(Math.log10(p.ymin)), e1 = Math.round(Math.log10(p.ymax));
  const yLabels = (p.every === 1 ? Y_LABELS_LEFT : Y_LABELS_RIGHT);
  option.series.push({type:'line', name:'shade'+p.lab, xAxisIndex:i, yAxisIndex:yi, data:[], z:1, silent:true,
    markArea:{silent:true, z:1, label:{show:false}, itemStyle:{color:'#dcdcdc'},
      data:p.shade.map(function(r){ return [{xAxis:r[0]},{xAxis:r[1]}]; })}});
  option.series.push({type:'custom', name:'grid'+p.lab, xAxisIndex:i, yAxisIndex:yi, z:1, silent:true,
    data:[[10, p.ymin]],
    renderItem:function(params, api){
      const cs = params.coordSys; const ch = [];
      const st = {stroke:'#333', lineWidth:1, lineDash:[1.5,3.5]};
      X_TICKS.slice(1, -1).forEach(function(v){
        const x = api.coord([v, p.ymin])[0];
        ch.push({type:'line', shape:{x1:x, y1:cs.y, x2:x, y2:cs.y + cs.height}, style:st});
      });
      yLabels.slice(1, -1).forEach(function(v){
        const y = api.coord([10, v])[1];
        ch.push({type:'line', shape:{x1:cs.x, y1:y, x2:cs.x + cs.width, y2:y}, style:st});
      });
      return {type:'group', children:ch};
    }});
  option.series.push({type:'line', name:'bands'+p.lab, xAxisIndex:i, yAxisIndex:yi, data:[], z:1, silent:true,
    markArea:{silent:true, z:1, label:{show:false},
      data:BAND_LO.map(function(lo, k){ return [{yAxis:lo, itemStyle:{color:BAND_COLORS[k]}}, {yAxis:BAND_HI[k]}]; })}});
  p.lines.forEach(function(d, k){
    option.series.push({type:'line', name:SPECIES[k], xAxisIndex:i, yAxisIndex:yi, data:d, z:2, silent:true,
      showSymbol:false, symbol:'none', clip:true, lineStyle:{color:COLORS[k], width:3}, itemStyle:{color:COLORS[k]}});
  });
  option.series.push({type:'line', name:'T'+p.lab, xAxisIndex:i, yAxisIndex:yi+1, data:p.T, z:3, silent:true,
    showSymbol:false, symbol:'none', clip:true, lineStyle:{color:'#c4c4c4', width:4, type:[14,9]}});
  option.series.push({type:'custom', name:'ticks'+p.lab, xAxisIndex:i, yAxisIndex:yi, z:4, silent:true,
    data:[[10, p.ymin]],
    renderItem:function(params, api){
      const cs = params.coordSys; const ch = [];
      const ln = function(x1,y1,x2,y2){ ch.push({type:'line', shape:{x1:x1,y1:y1,x2:x2,y2:y2}, style:{stroke:'#000', lineWidth:1.5}}); };
      for (let n = 1; n <= 4; n++) {
        for (let k = 1; k <= 9; k++) {
          const v = k * Math.pow(10, n); const L = (k === 1) ? 9 : 5;
          const x = api.coord([v, p.ymin])[0];
          ln(x, cs.y + cs.height, x, cs.y + cs.height - L);
          ln(x, cs.y, x, cs.y + L);
        }
      }
      for (let e = e0; e < e1; e++) {
        for (let k = 1; k <= 9; k++) {
          const v = k * Math.pow(10, e); const L = (k === 1) ? 9 : 4;
          const y = api.coord([10, v])[1];
          ln(cs.x, y, cs.x + L, y);
        }
      }
      return {type:'group', children:ch};
    }});
  option.series.push({type:'custom', name:'tticks'+p.lab, xAxisIndex:i, yAxisIndex:yi+1, z:4, silent:true,
    data:[[10, 50]],
    renderItem:function(params, api){
      const cs = params.coordSys; const ch = [];
      T_TICKS.forEach(function(t){
        const y = api.coord([10, t])[1];
        ch.push({type:'line', shape:{x1:cs.x + cs.width, y1:y, x2:cs.x + cs.width - 7, y2:y}, style:{stroke:'#000', lineWidth:1.5}});
      });
      return {type:'group', children:ch};
    }});

  option.graphic.push({type:'rect', silent:true, z:1, shape:{x:p.box[0], y:p.box[1], width:p.box[2], height:p.box[3]}, style:{fill:'#fff'}});
  option.graphic.push({type:'text', silent:true, z:7, x:p.g[0] + 18, y:p.g[1] + 20,
    style:{text:'{r|S}{sb|' + p.lab + '}', fill:'#000', font:'22px "DejaVu Sans"', lineHeight:32, rich:mathRich(22,'#000'),
      textAlign:'left', align:'left', textVerticalAlign:'middle', verticalAlign:'middle'}});
  option.graphic.push({type:'text', silent:true, z:7, x:p.tpos[0], y:p.tpos[1],
    style:{text:'{i|T}{r|(S}{sb|' + p.lab + '}{r|)}', fill:'#c0c0c0', font:'22px "DejaVu Sans"', lineHeight:32, rich:mathRich(22,'#c0c0c0'),
      textAlign:'center', align:'center', textVerticalAlign:'middle', verticalAlign:'middle'}});
  const lines = [
    '{r|Initial parameters:}',
    '{i|T}{sb|g}{r| = }{i|T}{sb|d}{r| = ' + p.tg + ' K}',
    '{i|n}{sb|H}{r| = 6 x 10}{sp|3}{r| cm}{sp|-3}',
    '{i|A}{sb|V}{r| = 7 mag}',
    '{r|ζ = 1.3 x 10}{sp|' + p.zeta + '}{r| s}{sp|-1}'
  ];
  lines.forEach(function(t, j){
    option.graphic.push({type:'text', silent:true, z:7, x:p.ppos[0], y:p.ppos[1] + PARAM_DY[j],
      style:{text:t, fill:'#000', font:'18px "DejaVu Sans"', lineHeight:26, rich:mathRich(18,'#000'),
        textAlign:'left', align:'left', textVerticalAlign:'middle', verticalAlign:'middle'}});
  });
});

const chart = echarts.init(document.getElementById('c'), null, {renderer:'canvas', width:1800, height:1904});
chart.setOption(option);
</script></body></html>
